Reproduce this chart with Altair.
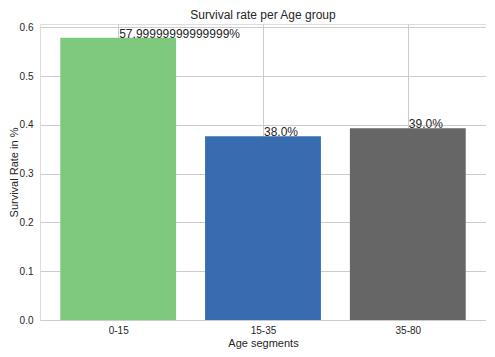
import altair as alt
import pandas as pd

groups = ["0-15", "15-35", "35-80"]
rates = [0.579, 0.377, 0.393]
labels = ["57.99999999999999%", "38.0%", "39.0%"]
colors = ["#7fc97f", "#386cb0", "#666666"]

df = pd.DataFrame({"idx": list(range(len(groups))), "group": groups,
                   "rate": rates, "label": labels, "color": colors})

FONT = "Liberation Sans"
TXT = "#262626"

base = alt.Chart(df).transform_calculate(
    x0="datum.idx - 0.4", x1="datum.idx + 0.4", zero="0"
)

xscale = alt.Scale(domain=[-0.54, 2.54], nice=False, zero=False)
yscale = alt.Scale(domain=[0, 0.607], nice=False)

label_expr = "datum.value == 0 ? '0-15' : datum.value == 1 ? '15-35' : '35-80'"

bars = base.mark_bar().encode(
    x=alt.X("x0:Q", scale=xscale,
            axis=alt.Axis(values=[0, 1, 2], labelExpr=label_expr, title="Age segments",
                          grid=True, gridColor="#cccccc", ticks=False, domain=False,
                          labelFontSize=10, labelColor=TXT, labelPadding=5,
                          titleFontSize=11, titleColor=TXT, titleFontWeight="normal",
                          titlePadding=2, labelFont=FONT, titleFont=FONT)),
    x2="x1:Q",
    y=alt.Y("rate:Q", scale=yscale,
            axis=alt.Axis(values=[0, 0.1, 0.2, 0.3, 0.4, 0.5, 0.6], format=".1f",
                          title="Survival Rate in %", grid=True, gridColor="#cccccc",
                          ticks=False, domain=False, labelFontSize=10, labelColor=TXT,
                          labelPadding=7, titleFontSize=11, titleColor=TXT,
                          titleFontWeight="normal", titlePadding=0,
                          labelFont=FONT, titleFont=FONT)),
    y2="zero:Q",
    color=alt.Color("color:N", scale=None),
)

texts = alt.Chart(df).mark_text(align="left", baseline="alphabetic", fontSize=12,
                                font=FONT, color=TXT, dx=1).encode(
    x=alt.X("idx:Q", scale=xscale),
    y=alt.Y("rate:Q", scale=yscale),
    text="label:N",
)

chart = alt.layer(bars, texts).properties(
    width=446, height=296,
    title=alt.TitleParams("Survival rate per Age group", fontSize=12, font=FONT,
                          color=TXT, fontWeight="normal", offset=0),
    autosize=alt.AutoSizeParams(type="none"),
    padding={"left": 32, "top": 16, "right": 0, "bottom": 29},
).configure_view(stroke="#cccccc", strokeWidth=1).configure(background="white")

chart.save("out.html", embed_options={"renderer": "svg", "actions": False})
